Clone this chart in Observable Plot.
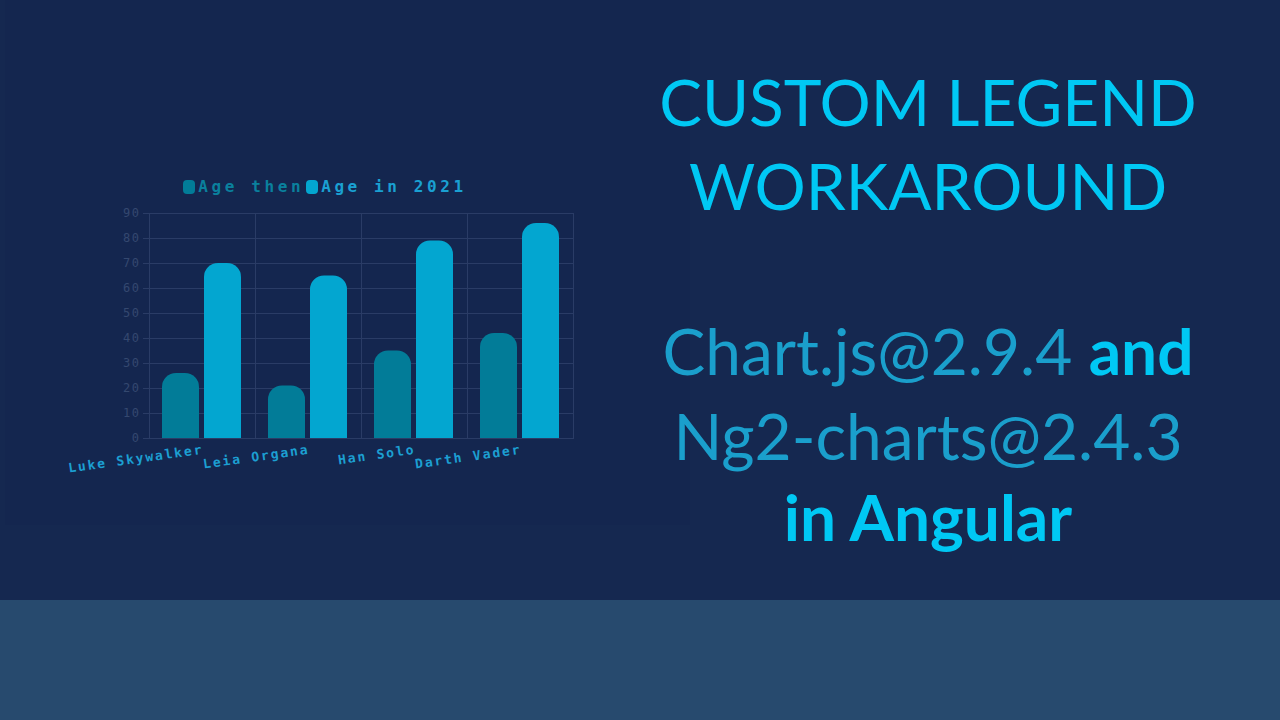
<!DOCTYPE html>
<html>
<head>
<meta charset="utf-8">
<script src="https://cdn.jsdelivr.net/npm/d3@7"></script>
<script src="https://cdn.jsdelivr.net/npm/@observablehq/plot@0.6"></script>
<style>
  html, body { margin:0; padding:0; }
  body { width:1280px; height:720px; background:#152850; position:relative; overflow:hidden; }
  #panel { position:absolute; left:5px; top:0; width:685px; height:525px; background:#14264f; }
  #band { position:absolute; left:0; top:600px; width:1280px; height:120px; background:#274a6e; }
  #legend { position:absolute; left:0; top:177px; width:650px; display:flex; justify-content:center; align-items:center;
            font-family:"DejaVu Sans Mono", monospace; font-weight:bold; font-size:16px; letter-spacing:3.6px; }
  #legend .item { display:flex; align-items:center; margin:0 1px; }
  #legend .sw { width:12px; height:14px; border-radius:4px; margin-right:3px; }
  #chart { position:absolute; left:0; top:200px; }
  g[aria-label="fx-axis tick label"] text { letter-spacing:1.9px; }
  g[aria-label="y-axis tick label"] text { letter-spacing:1.5px; }
  .hl { position:absolute; left:628px; width:600px; text-align:center; font-family:Lato, "Open Sans", sans-serif;
        font-size:64px; line-height:64px; white-space:nowrap; }
</style>
</head>
<body>
<div id="panel"></div>
<div id="band"></div>
<div id="legend"></div>
<div id="chart"></div>
<div class="hl" style="top:70px;color:#00c8f4">CUSTOM LEGEND</div>
<div class="hl" style="top:154px;color:#00c8f4">WORKAROUND</div>
<div class="hl" style="top:319px;"><span style="color:#1a9fcc">Chart.js@2.9.4</span> <span style="color:#00c8f4;font-weight:bold">and</span></div>
<div class="hl" style="top:404px;color:#1a9fcc">Ng2-charts@2.4.3</div>
<div class="hl" style="top:485px;color:#00c8f4;font-weight:bold">in Angular</div>
<script>
const names = ["Luke Skywalker", "Leia Organa", "Han Solo", "Darth Vader"];
const seriesNames = ["Age then", "Age in 2021"];
const ageThen = [26, 21, 35, 42];
const age2021 = [70, 65, 79, 86];
const yTicks = [0, 10, 20, 30, 40, 50, 60, 70, 80, 90];
const barColors = ["#027c98", "#03a6d0"];
const legendText = ["#0a809d", "#1aa0d2"];
const gridColor = "#2a3c66";

const data = names.flatMap((n, i) => [
  {name: n, series: seriesNames[0], value: ageThen[i]},
  {name: n, series: seriesNames[1], value: age2021[i]}
]);

// legend
const legend = document.getElementById("legend");
seriesNames.forEach((s, i) => {
  const item = document.createElement("div");
  item.className = "item";
  const sw = document.createElement("div");
  sw.className = "sw";
  sw.style.background = barColors[i];
  const t = document.createElement("span");
  t.textContent = s;
  t.style.color = legendText[i];
  item.appendChild(sw); item.appendChild(t);
  legend.appendChild(item);
});

const chart = Plot.plot({
  width: 620,
  height: 283,
  marginLeft: 148,
  marginRight: 46,
  marginTop: 13,
  marginBottom: 45,
  style: {background: "transparent", overflow: "visible"},
  fx: {domain: names, padding: 0, label: null, axis: null},
  x: {domain: seriesNames, paddingInner: 0.116, paddingOuter: 0.3, axis: null},
  y: {domain: [0, 90], axis: null},
  color: {domain: seriesNames, range: barColors},
  marks: [
    Plot.gridY(yTicks, {stroke: gridColor, strokeOpacity: 1}),
    Plot.frame({stroke: gridColor}),
    Plot.barY(data, {fx: "name", x: "series", y: "value", fill: "series", ry1: 14}),
    Plot.axisY(yTicks, {tickSize: 6, stroke: gridColor, fill: "#34486f", fontSize: 12, label: null,
      fontFamily: "DejaVu Sans Mono, monospace", tickPadding: 3}),
    Plot.axisFx({anchor: "bottom", tickRotate: -8, tickSize: 0, tickPadding: 6, textAnchor: "end",
      fill: "#1c9fd2", fontSize: 13, fontWeight: "bold", fontFamily: "DejaVu Sans Mono, monospace", label: null})
  ]
});
document.getElementById("chart").appendChild(chart);
</script>
</body>
</html>
